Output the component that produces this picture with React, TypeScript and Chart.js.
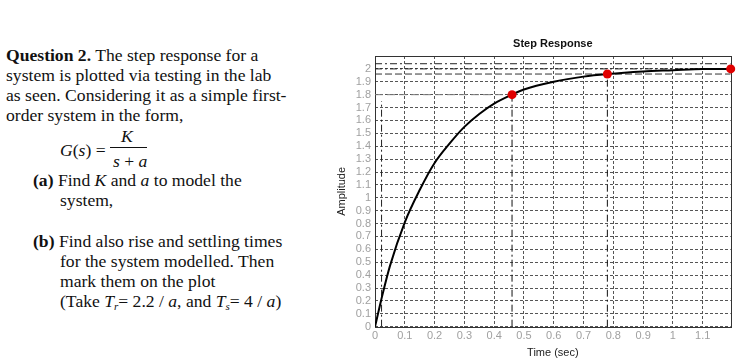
import React, { useEffect, useRef } from 'react';
import { Chart, registerables } from 'chart.js';

Chart.register(...registerables);

// ---- data ----
const times = [0, 0.01, 0.02, 0.05, 0.1, 0.15, 0.2, 0.25, 0.3, 0.35, 0.4, 0.46, 0.5, 0.6, 0.7, 0.78, 0.9, 1.0, 1.1, 1.194];
const amplitudes = [0, 0.1, 0.2, 0.47, 0.81, 1.06, 1.27, 1.42, 1.55, 1.65, 1.73, 1.8, 1.84, 1.9, 1.94, 1.96, 1.98, 1.99, 2.0, 2.0];
const xTickValues = [0, 0.1, 0.2, 0.3, 0.4, 0.5, 0.6, 0.7, 0.8, 0.9, 1, 1.1];
const yTickValues = [0, 0.1, 0.2, 0.3, 0.4, 0.5, 0.6, 0.7, 0.8, 0.9, 1, 1.1, 1.2, 1.3, 1.4, 1.5, 1.6, 1.7, 1.8, 1.9, 2];
const xMax = 1.194;
const yMax = 2.1;
const upperBand = 2.04;
const finalValue = 2.0;
const lowerBand = 1.96;
const riseLevel = 1.8;
const riseTime = 0.46;
const settleTime = 0.78;
const startTime = 0.022;
const startTop = 1.75;
const markerTimes = [0.46, 0.78, 1.194];
const markerAmps = [1.8, 1.96, 2.0];

const framePlugin = {
  id: 'frame',
  beforeDatasetsDraw(chart: any) {
    const { ctx, chartArea } = chart;
    ctx.save();
    ctx.setLineDash([]);
    ctx.strokeStyle = '#333';
    ctx.lineWidth = 1;
    ctx.strokeRect(
      Math.round(chartArea.left) + 0.5,
      Math.round(chartArea.top) + 0.5,
      Math.round(chartArea.right - chartArea.left),
      Math.round(chartArea.bottom - chartArea.top)
    );
    ctx.restore();
  },
};

function refLine(points: { x: number; y: number }[], dash: number[], color: string) {
  return {
    type: 'line' as const,
    data: points,
    showLine: true,
    borderColor: color,
    borderWidth: 1,
    borderDash: dash,
    pointRadius: 0,
    fill: false,
    order: 3,
  };
}

const tickFont = { family: 'Liberation Sans, Arial, sans-serif', size: 11 };

function StepChart() {
  const ref = useRef<HTMLCanvasElement | null>(null);
  useEffect(() => {
    if (!ref.current) return;
    const curve = times.map((t, i) => ({ x: t, y: amplitudes[i] }));
    const markers = markerTimes.map((t, i) => ({ x: t, y: markerAmps[i] }));
    const dashDot = [7, 3, 2, 3];
    const chart = new Chart(ref.current, {
      type: 'scatter',
      data: {
        datasets: [
          refLine([{ x: 0, y: upperBand }, { x: xMax, y: upperBand }], dashDot, '#222'),
          refLine([{ x: 0, y: finalValue }, { x: xMax, y: finalValue }], dashDot, '#222'),
          refLine([{ x: 0, y: lowerBand }, { x: xMax, y: lowerBand }], [7, 3], '#333'),
          refLine([{ x: 0, y: riseLevel }, { x: riseTime, y: riseLevel }], [8, 4], '#777'),
          refLine([{ x: startTime, y: 0 }, { x: startTime, y: startTop }], dashDot, '#222'),
          refLine([{ x: riseTime, y: 0 }, { x: riseTime, y: riseLevel }], dashDot, '#111'),
          refLine([{ x: settleTime, y: 0 }, { x: settleTime, y: lowerBand }], dashDot, '#111'),
          {
            type: 'line',
            data: curve,
            showLine: true,
            borderColor: '#000',
            borderWidth: 2,
            pointRadius: 0,
            cubicInterpolationMode: 'monotone',
            fill: false,
            order: 2,
          } as any,
          {
            type: 'scatter',
            data: markers,
            pointRadius: 4.5,
            pointBackgroundColor: '#e00000',
            pointBorderColor: '#e00000',
            pointBorderWidth: 0,
            clip: false,
            order: 1,
          } as any,
        ],
      },
      options: {
        animation: false,
        responsive: false,
        devicePixelRatio: 1,
        layout: { padding: { left: 0, right: 12.3, top: 0, bottom: 0 } },
        plugins: {
          legend: { display: false },
          tooltip: { enabled: false },
          title: {
            display: true,
            text: 'Step Response',
            fullSize: false,
            color: '#111',
            font: { family: 'Liberation Sans, Arial, sans-serif', size: 11, weight: 'bold' },
            padding: { top: 37.4, bottom: 5.4 },
          },
        },
        scales: {
          x: {
            type: 'linear',
            min: 0,
            max: xMax,
            afterBuildTicks: (s: any) => {
              s.ticks = xTickValues.map((v) => ({ value: v }));
            },
            afterFit: (s: any) => {
              s.height = 37.3;
            },
            ticks: {
              color: '#a0a0a0',
              padding: 3,
              maxRotation: 0,
              autoSkip: false,
              font: tickFont,
              callback: (v: any) => String(Math.round(Number(v) * 10) / 10),
            },
            grid: { color: '#555', lineWidth: 1, drawTicks: false },
            border: { display: false, dash: [3, 2] },
            title: {
              display: true,
              text: 'Time (sec)',
              color: '#222',
              font: { family: 'Liberation Sans, Arial, sans-serif', size: 11 },
              padding: { top: 0, bottom: 4.1 },
            },
          },
          y: {
            type: 'linear',
            min: 0,
            max: yMax,
            afterBuildTicks: (s: any) => {
              s.ticks = yTickValues.map((v) => ({ value: v }));
            },
            afterFit: (s: any) => {
              s.width = 75;
            },
            ticks: {
              color: '#a0a0a0',
              padding: 4,
              autoSkip: false,
              font: tickFont,
              callback: (v: any) => String(Math.round(Number(v) * 10) / 10),
            },
            grid: { color: '#555', lineWidth: 1, drawTicks: false },
            border: { display: false, dash: [3, 2] },
            title: {
              display: true,
              text: 'Amplitude',
              color: '#222',
              font: { family: 'Liberation Sans, Arial, sans-serif', size: 11 },
              padding: { top: 35.4, bottom: 0 },
            },
          },
        },
      },
      plugins: [framePlugin],
    } as any);
    return () => chart.destroy();
  }, []);
  return <canvas ref={ref} width={443} height={364} style={{ display: 'block' }} />;
}

const serif = '"Liberation Serif", "Times New Roman", serif';

function Line({ x, base, children }: { x: number; base: number; children: React.ReactNode }) {
  return (
    <div
      style={{
        position: 'absolute',
        left: x,
        top: base - 15.9,
        lineHeight: '20px',
        whiteSpace: 'nowrap',
      }}
    >
      {children}
    </div>
  );
}

export default function App() {
  return (
    <div
      style={{
        position: 'absolute',
        left: 0,
        top: 0,
        width: 743,
        height: 364,
        background: '#fff',
        overflow: 'hidden',
        fontFamily: serif,
        fontSize: '17.6px',
        color: '#111',
      }}
    >
      <Line x={6} base={60.7}>
        <b>Question 2.</b> The step response for a
      </Line>
      <Line x={6} base={80.7}>system is plotted via testing in the lab</Line>
      <Line x={6} base={100.7}>as seen. Considering it as a simple first-</Line>
      <Line x={6} base={120.7}>order system in the form,</Line>

      <Line x={60} base={156}>
        <i>G</i>(<i>s</i>) =
      </Line>
      <Line x={121} base={141.7}>
        <i>K</i>
      </Line>
      <div style={{ position: 'absolute', left: 110, top: 147, width: 37, height: 1, background: '#111' }} />
      <Line x={113} base={166.7}>
        <i>s</i> + <i>a</i>
      </Line>

      <Line x={33} base={186}>
        <b>(a)</b> Find <i>K</i> and <i>a</i> to model the
      </Line>
      <Line x={60} base={206}>system,</Line>
      <Line x={33} base={247.3}>
        <b>(b)</b> Find also rise and settling times
      </Line>
      <Line x={60} base={267.3}>for the system modelled. Then</Line>
      <Line x={60} base={287.3}>mark them on the plot</Line>
      <Line x={60} base={307.3}>
        (Take <i>T</i>
        <sub style={{ fontSize: '11px', verticalAlign: '-3px', lineHeight: 0 }}>
          <i>r</i>
        </sub>
        = 2.2 / <i>a</i>, and <i>T</i>
        <sub style={{ fontSize: '11px', verticalAlign: '-3px', lineHeight: 0 }}>
          <i>s</i>
        </sub>
        = 4 / <i>a</i>)
      </Line>

      <div style={{ position: 'absolute', left: 300, top: 0, width: 443, height: 364 }}>
        <StepChart />
      </div>
    </div>
  );
}
